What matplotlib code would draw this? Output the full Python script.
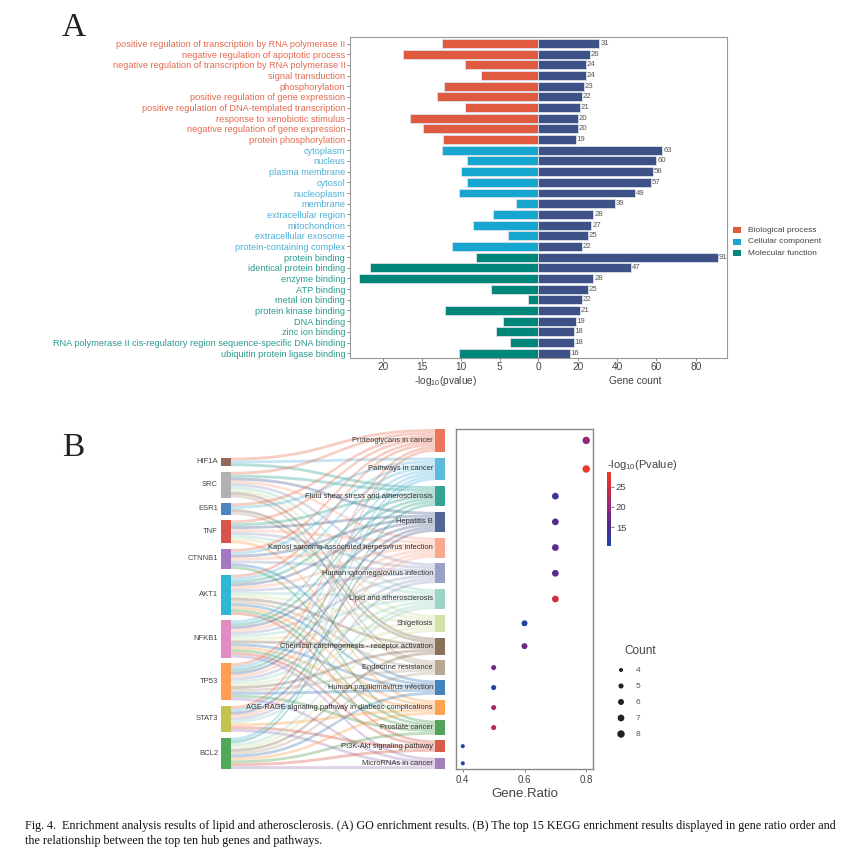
import numpy as np
import matplotlib
matplotlib.use('Agg')
import matplotlib.pyplot as plt
from matplotlib.path import Path
from matplotlib.patches import PathPatch, Rectangle
from matplotlib.colors import LinearSegmentedColormap, Normalize
from matplotlib.cm import ScalarMappable
from matplotlib.transforms import blended_transform_factory

plt.rcParams['font.family'] = ['Liberation Sans', 'DejaVu Sans']
plt.rcParams['mathtext.fontset'] = 'custom'
plt.rcParams['mathtext.rm'] = 'Liberation Sans'
plt.rcParams['mathtext.it'] = 'Liberation Sans:italic'

W, H = 844, 849

# ---------------- Panel A: GO enrichment ----------------
go_terms = [
    'positive regulation of transcription by RNA polymerase II',
    'negative regulation of apoptotic process',
    'negative regulation of transcription by RNA polymerase II',
    'signal transduction',
    'phosphorylation',
    'positive regulation of gene expression',
    'positive regulation of DNA-templated transcription',
    'response to xenobiotic stimulus',
    'negative regulation of gene expression',
    'protein phosphorylation',
    'cytoplasm',
    'nucleus',
    'plasma membrane',
    'cytosol',
    'nucleoplasm',
    'membrane',
    'extracellular region',
    'mitochondrion',
    'extracellular exosome',
    'protein-containing complex',
    'protein binding',
    'identical protein binding',
    'enzyme binding',
    'ATP binding',
    'metal ion binding',
    'protein kinase binding',
    'DNA binding',
    'zinc ion binding',
    'RNA polymerase II cis-regulatory region sequence-specific DNA binding',
    'ubiquitin protein ligase binding',
]
go_category = ['Biological process'] * 10 + ['Cellular component'] * 10 + ['Molecular function'] * 10
go_logp = [12.5, 17.5, 9.5, 7.4, 12.2, 13.1, 9.5, 16.6, 14.9, 12.3,
           12.5, 9.2, 10.0, 9.2, 10.3, 2.9, 5.9, 8.4, 3.9, 11.1,
           8.1, 21.8, 23.1, 6.1, 1.3, 12.1, 4.6, 5.5, 3.6, 10.2]
go_count = [31, 26, 24, 24, 23, 22, 21, 20, 20, 19,
            63, 60, 58, 57, 49, 39, 28, 27, 25, 22,
            91, 47, 28, 25, 22, 21, 19, 18, 18, 16]
categories = ['Biological process', 'Cellular component', 'Molecular function']

# ---------------- Panel B: KEGG + hub genes ----------------
genes = ['HIF1A', 'SRC', 'ESR1', 'TNF', 'CTNNB1', 'AKT1', 'NFKB1', 'TP53', 'STAT3', 'BCL2']
pathways = [
    'Proteoglycans in cancer',
    'Pathways in cancer',
    'Fluid shear stress and atherosclerosis',
    'Hepatitis B',
    'Kaposi sarcoma-associated herpesvirus infection',
    'Human cytomegalovirus infection',
    'Lipid and atherosclerosis',
    'Shigellosis',
    'Chemical carcinogenesis - receptor activation',
    'Endocrine resistance',
    'Human papillomavirus infection',
    'AGE-RAGE signaling pathway in diabetic complications',
    'Prostate cancer',
    'PI3K-Akt signaling pathway',
    'MicroRNAs in cancer',
]
gene_ratio = [0.8, 0.8, 0.7, 0.7, 0.7, 0.7, 0.7, 0.6, 0.6, 0.5, 0.5, 0.5, 0.5, 0.4, 0.4]
pathway_count = [8, 8, 7, 7, 7, 7, 7, 6, 6, 5, 5, 5, 5, 4, 4]
pathway_logp = [20.0, 28.5, 13.0, 15.5, 16.0, 16.0, 25.0, 11.0, 17.5, 17.5, 11.5, 21.5, 23.0, 11.0, 11.0]

# pathways (by index) linked to each hub gene
gene_links = [
    [0, 1, 2],                                        # HIF1A
    [0, 2, 3, 4, 5, 6, 7, 8, 9],                      # SRC
    [0, 1, 8, 9],                                     # ESR1
    [0, 2, 3, 4, 5, 6, 7, 11],                        # TNF
    [0, 1, 3, 4, 5, 10, 12],                          # CTNNB1
    [0, 1, 2, 3, 4, 5, 6, 7, 8, 9, 10, 11, 12, 13],   # AKT1
    [1, 2, 3, 4, 5, 6, 7, 8, 10, 11, 12, 13, 14],     # NFKB1
    [0, 1, 2, 3, 4, 5, 6, 7, 8, 9, 10, 12, 14],       # TP53
    [0, 1, 3, 4, 5, 6, 11, 13, 14],                   # STAT3
    [1, 2, 6, 7, 8, 9, 10, 11, 12, 13, 14],           # BCL2
]

bar_colors = {'Biological process': '#e05a3f', 'Cellular component': '#17a6cf',
              'Molecular function': '#00877a'}
label_colors = {'Biological process': '#e3694f', 'Cellular component': '#4bb0d6',
                'Molecular function': '#2a9a8e'}
gene_colors = ['#8c564b', '#a9a9a9', '#3a78b6', '#d4423a', '#9a6bbb',
               '#17b1d0', '#dd7fbe', '#ff9440', '#bebd3c', '#3f9f47']
pathway_colors = ['#e8674a', '#4db4d9', '#1f9a86', '#3d5589', '#f9a082',
                  '#8d98bf', '#8fd0c2', '#cfdd9c', '#7e6148', '#b19d86',
                  '#2f74b6', '#ff9a3c', '#3f9a47', '#d44a33', '#9a73b6']

fig = plt.figure(figsize=(W / 100, H / 100), dpi=100)


def px_axes(x0, y0, x1, y1, **kw):
    return fig.add_axes([x0 / W, 1 - y1 / H, (x1 - x0) / W, (y1 - y0) / H], **kw)


# ---------------- Panel A drawing ----------------
SCALE = 3.93  # count units per -log10(p) unit on the shared axis
ax = px_axes(350, 37, 727, 358)
y = np.arange(len(go_terms))
ax.barh(y, -np.array(go_logp) * SCALE, height=0.84,
        color=[bar_colors[c] for c in go_category], edgecolor='#dde2ea', linewidth=0.6)
ax.barh(y, go_count, height=0.84, color='#3d5186', edgecolor='#dde2ea', linewidth=0.6)
for yi, c in zip(y, go_count):
    ax.text(c + 0.5, yi, str(c), fontsize=5.6, color='#555555', va='center', ha='left')
ax.set_ylim(len(go_terms) - 0.55, -0.61)
ax.set_xlim(-95.6, 95.8)
ax.set_yticks(y)
ax.set_yticklabels(go_terms, fontsize=6.6)
for lab, c in zip(ax.get_yticklabels(), go_category):
    lab.set_color(label_colors[c])
left_ticks = [20, 15, 10, 5]
right_ticks = [20, 40, 60, 80]
ax.set_xticks([-t * SCALE for t in left_ticks] + [0] + right_ticks)
ax.set_xticklabels([str(t) for t in left_ticks] + ['0'] + [str(t) for t in right_ticks],
                   fontsize=7.3, color='#444444')
ax.tick_params(axis='x', length=2, width=0.6, color='#777777', pad=1.0)
ax.tick_params(axis='y', length=2, width=0.6, color='#777777', pad=1.5)
for s in ax.spines.values():
    s.set_color('#999999')
    s.set_linewidth(0.8)
tr = blended_transform_factory(ax.transData, ax.transAxes)
ax.text(-12 * SCALE, -0.072, '-log$_{10}$(pvalue)', transform=tr, ha='center', va='center',
        fontsize=7.3, color='#444444')
ax.text(49, -0.072, 'Gene count', transform=tr, ha='center', va='center',
        fontsize=7.3, color='#444444')

# ---------------- Panel B: sankey ----------------
GAP = 2.0
total_right = sum(pathway_count) + GAP * (len(pathways) - 1)
gene_sizes = [len(l) for l in gene_links]
total_left = sum(gene_sizes) + GAP * (len(genes) - 1)

right_top = np.concatenate([[0], np.cumsum(np.array(pathway_count) + GAP)[:-1]])
left_top = (total_right - total_left) + np.concatenate([[0], np.cumsum(np.array(gene_sizes) + GAP)[:-1]])

sk = px_axes(150, 429, 456, 769)
sk.set_xlim(150, 456)
sk.set_ylim(total_right, 0)
sk.axis('off')
LX0, LX1 = 221, 231
RX0, RX1 = 435, 445
xm = (LX1 + RX0) / 2

right_fill = right_top.copy()
for gi in range(len(genes)):
    lp = left_top[gi]
    for pj in sorted(gene_links[gi]):
        rp = right_fill[pj]
        verts = [(LX1, lp), (xm, lp), (xm, rp), (RX0, rp),
                 (RX0, rp + 1), (xm, rp + 1), (xm, lp + 1), (LX1, lp + 1), (LX1, lp)]
        codes = [Path.MOVETO, Path.CURVE4, Path.CURVE4, Path.CURVE4,
                 Path.LINETO, Path.CURVE4, Path.CURVE4, Path.CURVE4, Path.CLOSEPOLY]
        sk.add_patch(PathPatch(Path(verts, codes), facecolor=pathway_colors[pj],
                               edgecolor='none', alpha=0.32))
        lp += 1
        right_fill[pj] += 1

for gi, g in enumerate(genes):
    sk.add_patch(Rectangle((LX0, left_top[gi]), LX1 - LX0, gene_sizes[gi],
                           facecolor=gene_colors[gi], edgecolor='none', alpha=0.9))
    sk.text(LX0 - 3, left_top[gi] + gene_sizes[gi] / 2, g, ha='right', va='center',
            fontsize=5.5, color='#444444')
for pj, p in enumerate(pathways):
    sk.add_patch(Rectangle((RX0, right_top[pj]), RX1 - RX0, pathway_count[pj],
                           facecolor=pathway_colors[pj], edgecolor='none', alpha=0.9))
    sk.text(RX0 - 2, right_top[pj] + pathway_count[pj] / 2, p, ha='right', va='center',
            fontsize=5.4, color='#333333')

# ---------------- Panel B: dot plot ----------------
cmap = LinearSegmentedColormap.from_list(
    'bp', ['#1d48a6', '#4a2b8e', '#8a2a80', '#c82a45', '#f03a25'])
norm = Normalize(10.3, 28.7)


def dot_size(c):
    return 8.5 + (np.asarray(c) - 4) * 5.0


dp = px_axes(456, 429, 593, 769)
dp.scatter(gene_ratio, right_top + np.array(pathway_count) / 2, s=dot_size(pathway_count),
           c=pathway_logp, cmap=cmap, norm=norm, edgecolors='none', zorder=3)
dp.set_ylim(total_right, 0)
dp.set_xlim(0.378, 0.822)
dp.set_yticks([])
dp.set_xticks([0.4, 0.6, 0.8])
dp.set_xticklabels(['0.4', '0.6', '0.8'], fontsize=7, color='#444444')
dp.tick_params(axis='x', length=2.5, width=0.7, color='#888888', pad=2)
for s in dp.spines.values():
    s.set_color('#888888')
    s.set_linewidth(1.0)
dp.set_xlabel('Gene.Ratio', fontsize=9.5, color='#444444', labelpad=2)

cax = px_axes(607, 472, 611, 546)
cb = fig.colorbar(ScalarMappable(norm=norm, cmap=cmap), cax=cax, ticks=[15, 20, 25])
cb.outline.set_visible(False)
cb.ax.tick_params(labelsize=6.8, length=2, width=0.6, color='#666666', labelcolor='#444444', pad=1.5)

# ---------------- overlay: letters, legends, caption ----------------
ov = fig.add_axes([0, 0, 1, 1], zorder=10)
ov.set_xlim(0, W)
ov.set_ylim(H, 0)
ov.axis('off')

ov.text(62, 36, 'A', fontsize=24, family='Liberation Serif', color='#222222', va='baseline')
ov.text(62, 456, 'B', fontsize=24, family='Liberation Serif', color='#222222', va='baseline')

for i, c in enumerate(categories):
    yy = 230 + i * 11.7
    ov.add_patch(Rectangle((733, yy - 3), 8, 6, facecolor=bar_colors[c], edgecolor='none'))
    ov.text(748, yy, c, fontsize=6, color='#444444', va='center', ha='left')

ov.text(607, 465, '-log$_{10}$(Pvalue)', fontsize=8, color='#444444', va='center', ha='left')

ov.text(624, 651, 'Count', fontsize=8.5, color='#444444', va='center', ha='left')
legend_counts = [4, 5, 6, 7, 8]
ov.scatter([621] * len(legend_counts), [670 + 16 * i for i in range(len(legend_counts))],
           s=dot_size(legend_counts), color='#222222', edgecolors='none')
for i, c in enumerate(legend_counts):
    ov.text(636, 670 + 16 * i, str(c), fontsize=6, color='#555555', va='center', ha='left')

ov.text(25, 826, 'Fig. 4.  Enrichment analysis results of lipid and atherosclerosis. (A) GO enrichment '
        'results. (B) The top 15 KEGG enrichment results displayed in gene ratio order and',
        fontsize=8.7, family='Liberation Serif', color='#111111', va='center', ha='left')
ov.text(25, 841, 'the relationship between the top ten hub genes and pathways.',
        fontsize=8.7, family='Liberation Serif', color='#111111', va='center', ha='left')

fig.savefig('out.png', dpi=100, facecolor='white')
